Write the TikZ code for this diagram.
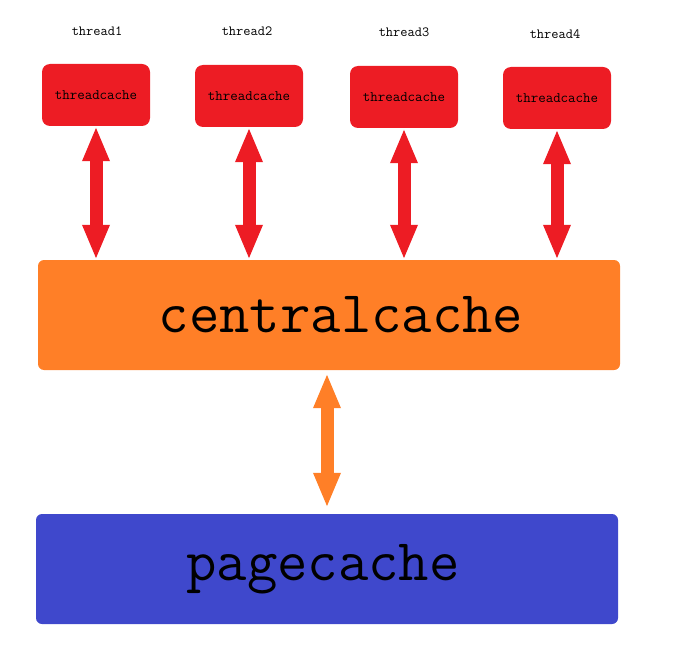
\documentclass[tikz,border=0pt]{standalone}
\usepackage{fontspec}
\usetikzlibrary{arrows.meta}
\definecolor{cachered}{HTML}{ED1C24}
\definecolor{cacheorange}{HTML}{FF7F27}
\definecolor{cacheblue}{HTML}{3F48CC}

\begin{document}
\begin{tikzpicture}
          [x=1pt,y=-1pt,
          threadbox/.style={rectangle,rounded corners=8pt,fill=cachered,minimum width=108pt,minimum height=62pt,inner sep=0pt,font=\fontsize{14.5}{16}\selectfont\ttfamily},
          threadlabel/.style={font=\fontsize{14}{16}\selectfont\ttfamily},
          bigbox/.style={rectangle,rounded corners=6pt,minimum width=582pt,minimum height=110pt,inner sep=0pt,font=\fontsize{59}{62}\selectfont\ttfamily},
          twoway/.style={line width=13pt,{Triangle[width=25pt,length=35pt]}-{Triangle[width=25pt,length=35pt]}}]
          \useasboundingbox (0,0) rectangle (677,655);
          \node[threadlabel] (thread1) at (97,31) {thread1};
          \node[threadlabel] (thread2) at (247,31) {thread2};
          \node[threadlabel] (thread3) at (404,32) {thread3};
          \node[threadlabel] (thread4) at (555,34) {thread4};
          \node[threadbox] (tc1) at (96,95)  {threadcache};
          \node[threadbox] (tc2) at (249,96) {threadcache};
          \node[threadbox] (tc3) at (404,97) {threadcache};
          \node[threadbox] (tc4) at (557,98) {threadcache};
          \node[bigbox,fill=cacheorange] (central) at (329,315) {\hspace*{24pt}centralcache};
          \node[bigbox,fill=cacheblue]   (page)    at (327,569) {pagecache\hspace*{8pt}};
          \draw[twoway,cachered] (tc1.south) -- (tc1.south |- central.north);
          \draw[twoway,cachered] (tc2.south) -- (tc2.south |- central.north);
          \draw[twoway,cachered] (tc3.south) -- (tc3.south |- central.north);
          \draw[twoway,cachered] (tc4.south) -- (tc4.south |- central.north);
          \draw[twoway,cacheorange,shorten <=3pt,shorten >=6pt]
            ([xshift=-2pt]central.south) -- ([xshift=-2pt]central.south |- page.north);
\end{tikzpicture}
\end{document}
